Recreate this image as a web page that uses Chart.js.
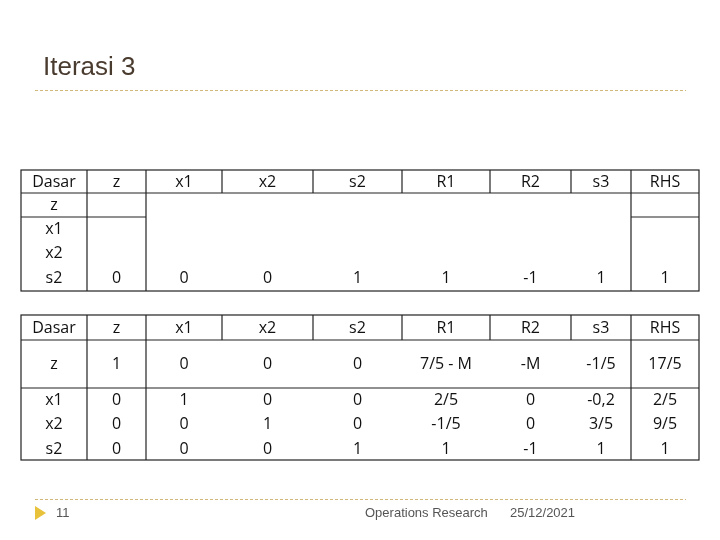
<!DOCTYPE html>
<html><head><meta charset="utf-8">
<script src="https://cdn.jsdelivr.net/npm/chart.js@4"></script>
<style>html,body{margin:0;padding:0;background:#fff}</style>
</head><body>
<canvas id="c" width="720" height="540"></canvas>
<script>
const headers = ["Dasar","z","x1","x2","s2","R1","R2","s3","RHS"];
const basis = ["z","x1","x2","s2"];
const table1Rows = [
  ["","","","","","","",""],
  ["","","","","","","",""],
  ["","","","","","","",""],
  ["0","0","0","1","1","-1","1","1"]
];
const table2Rows = [
  ["1","0","0","0","7/5 - M","-M","-1/5","17/5"],
  ["0","1","0","0","2/5","0","-0,2","2/5"],
  ["0","0","1","0","-1/5","0","3/5","9/5"],
  ["0","0","0","1","1","-1","1","1"]
];
const colEdges = [21,87,146,222,313,402,490,571,631,699];
const t1 = {top:170, head:193, zline:217, bottom:291, rows:[182,205,229,253,278]};
const t2 = {top:315, head:340, zline:388, bottom:460, rows:[328,364,400,424,449]};

const tablePlugin = {
  id:'tables',
  afterDraw(chart){
    const ctx = chart.ctx, xs = chart.scales.x, ys = chart.scales.y;
    const X = v => xs.getPixelForValue(v), Y = v => ys.getPixelForValue(v);
    ctx.save();
    ctx.fillStyle = '#4a3b2f';
    ctx.font = '26px "Liberation Sans", Arial';
    ctx.textBaseline = 'middle';
    ctx.fillText('Iterasi 3', X(43), Y(68));
    ctx.strokeStyle = '#d2b77a'; ctx.lineWidth = 1; ctx.setLineDash([3,2]);
    [90,499].forEach(yy=>{ctx.beginPath();ctx.moveTo(X(35),Y(yy)+0.5);ctx.lineTo(X(686),Y(yy)+0.5);ctx.stroke();});
    ctx.setLineDash([]);
    ctx.fillStyle = '#e8c23a';
    ctx.beginPath(); ctx.moveTo(X(35),Y(506)); ctx.lineTo(X(46),Y(513)); ctx.lineTo(X(35),Y(520)); ctx.closePath(); ctx.fill();
    ctx.fillStyle = '#555'; ctx.font = '13px "Liberation Sans", Arial';
    ctx.textAlign = 'left';
    ctx.fillText('11', X(56), Y(513));
    ctx.fillText('Operations Research', X(365), Y(513));
    ctx.fillText('25/12/2021', X(510), Y(513));
    const drawTable = (t, rows) => {
      ctx.strokeStyle = '#222'; ctx.lineWidth = 1.2;
      const L = X(colEdges[0]), R = X(colEdges[colEdges.length-1]);
      ctx.strokeRect(L, Y(t.top), R-L, Y(t.bottom)-Y(t.top));
      const line=(x1,y1,x2,y2)=>{ctx.beginPath();ctx.moveTo(X(x1),Y(y1));ctx.lineTo(X(x2),Y(y2));ctx.stroke();};
      line(colEdges[0],t.head,colEdges[9],t.head);
      colEdges.slice(1,9).forEach((cx,i)=>{
        const full = (i===0||i===1||i===7);
        line(cx,t.top,cx,full?t.bottom:t.head);
      });
      if (t===t1){ line(21,t.zline,146,t.zline); line(631,t.zline,699,t.zline); }
      else line(21,t.zline,699,t.zline);
      ctx.fillStyle = '#111'; ctx.font = '16px "Open Sans", "Liberation Sans Narrow", sans-serif';
      ctx.textAlign = 'center';
      const cent = i => X((colEdges[i]+colEdges[i+1])/2);
      headers.forEach((h,i)=>ctx.fillText(h, cent(i), Y(t.rows[0])));
      basis.forEach((b,r)=>{
        ctx.fillText(b, cent(0), Y(t.rows[r+1]));
        rows[r].forEach((v,i)=>{ if(v) ctx.fillText(v, cent(i+1), Y(t.rows[r+1])); });
      });
    };
    drawTable(t1, table1Rows);
    drawTable(t2, table2Rows);
    ctx.restore();
  }
};

new Chart(document.getElementById('c'), {
  type:'scatter',
  data:{datasets:[{data:[]}]},
  options:{
    responsive:false, animation:false, events:[],
    layout:{padding:0},
    plugins:{legend:{display:false}, tooltip:{enabled:false}},
    scales:{
      x:{type:'linear', min:0, max:720, display:false},
      y:{type:'linear', min:0, max:540, reverse:true, display:false}
    }
  },
  plugins:[tablePlugin]
});
</script>
</body></html>
